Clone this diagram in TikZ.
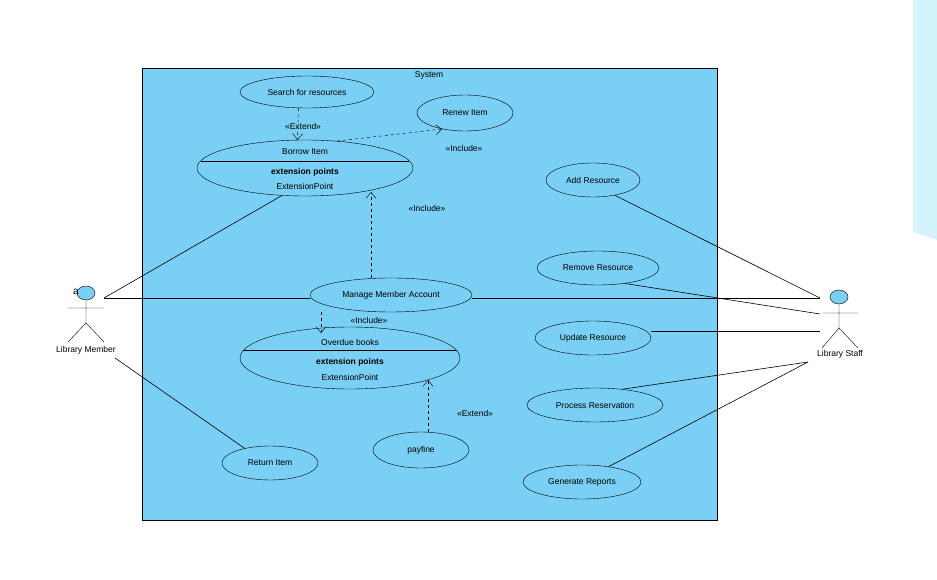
\documentclass[tikz,border=0pt]{standalone}
\usepackage{fontspec}
\setmainfont{Liberation Sans}
\usetikzlibrary{shapes.geometric,arrows.meta,calc}
\begin{document}
\begin{tikzpicture}[x=1pt,y=-1pt,
  uc/.style={draw,ellipse,fill=sysblue,inner sep=0pt,font=\fontsize{8.5}{10}\selectfont},
  lbl/.style={font=\fontsize{8.5}{10}\selectfont},
  dep/.style={dashed,-{Straight Barb[length=6pt,width=10pt]}},
  assoc/.style={draw,line width=0.6pt}]
\definecolor{sysblue}{HTML}{79CFF4}
\definecolor{stripe}{HTML}{D3F3FD}
\useasboundingbox (0,0) rectangle (937,580);
\fill[stripe] (913,0) -- (937,0) -- (937,240) -- (913,232) -- cycle;
\node[draw,fill=sysblue,line width=0.6pt,minimum width=575pt,minimum height=452pt,anchor=north west,inner sep=0pt] (sys) at (142,68) {};
\node[lbl] (systl) at (429,75) {System};
% use cases
\node[uc,minimum width=134pt,minimum height=32pt] (search) at (307,92) {Search for resources};
\node[uc,minimum width=96pt,minimum height=36pt] (renew) at (465,113) {Renew Item};
\node[uc,minimum width=216pt,minimum height=56pt] (borrow) at (305,168) {};
\draw ($(borrow)+(-104,-7)$) -- ($(borrow)+(104,-7)$);
\node[lbl] (bt) at (305,152) {Borrow Item};
\node[lbl,font=\fontsize{8.5}{10}\selectfont\bfseries] (bep) at (305,172) {extension points};
\node[lbl] (bex) at (305,186) {ExtensionPoint};
\node[uc,minimum width=94pt,minimum height=34pt] (add) at (593,180) {Add Resource};
\node[uc,minimum width=122pt,minimum height=34pt] (remove) at (598,268) {Remove Resource};
\node[uc,minimum width=162pt,minimum height=34pt] (manage) at (391,295) {Manage Member Account};
\node[uc,minimum width=116pt,minimum height=34pt] (update) at (593,338) {Update Resource};
\node[uc,minimum width=220pt,minimum height=62pt] (overdue) at (350,358) {};
\draw ($(overdue)+(-107,-8)$) -- ($(overdue)+(107,-8)$);
\node[lbl] (ot) at (350,342) {Overdue books};
\node[lbl,font=\fontsize{8.5}{10}\selectfont\bfseries] (oep) at (350,362) {extension points};
\node[lbl] (oex) at (350,377) {ExtensionPoint};
\node[uc,minimum width=136pt,minimum height=34pt] (process) at (595,405) {Process Reservation};
\node[uc,minimum width=96pt,minimum height=36pt] (payfine) at (421,450) {payfine};
\node[uc,minimum width=96pt,minimum height=34pt] (return) at (270,463) {Return Item};
\node[uc,minimum width=118pt,minimum height=34pt] (reports) at (582,482) {Generate Reports};
% actors
\node[draw,ellipse,fill=sysblue,minimum width=18pt,minimum height=14pt,inner sep=0pt] (mhead) at (86,293) {};
\node[lbl,font=\fontsize{10}{10}\selectfont] (ma) at (76,292) {a};
\draw (68,308) -- (104,308) (86,300) -- (86,323) -- (68,342) (86,323) -- (104,342);
\node[lbl] (member) at (86,350) {Library Member};
\node[draw,ellipse,fill=sysblue,minimum width=18pt,minimum height=14pt,inner sep=0pt] (shead) at (839,297) {};
\draw (823,313) -- (858,313) (839,304) -- (839,328) -- (822,348) (839,328) -- (858,348);
\node[lbl] (staff) at (840,354) {Library Staff};
% member associations
\coordinate (m1) at (104,298);
\coordinate (m2) at (115,358);
\draw[assoc] (m1) -- (borrow.-130);
\draw[assoc] (m1) -- (manage.west |- m1);
\draw[assoc] (m2) -- (return.150);
% staff associations
\coordinate (s1) at (820,298);
\coordinate (s2) at (820,314);
\coordinate (s3) at (820,331);
\coordinate (s4) at (808,362);
\draw[assoc] (add.-35) -- (s1);
\draw[assoc] (manage.east |- s1) -- (s1);
\draw[assoc] (remove.-30) -- (s2);
\draw[assoc] (update.east |- s3) -- (s3);
\draw[assoc] (process.30) -- (s4);
\draw[assoc] (reports.30) -- (s4);
% dependencies
\draw[dep] (search.-118) -- (borrow.105);
\node[lbl] (e1) at (303,126) {<<Extend>>};
\draw[dep] (borrow.40) -- (renew.-145);
\node[lbl] (i1) at (464,148) {<<Include>>};
\draw[dep] (manage.north -| 371,0) -- (371,192);
\node[lbl] (i2) at (427,208) {<<Include>>};
\draw[dep] (manage.south -| 321,0) -- (321,333);
\node[lbl] (i3) at (369,320) {<<Include>>};
\draw[dep] (payfine.north -| 428,0) -- (428,380);
\node[lbl] (e2) at (475,413) {<<Extend>>};
\end{tikzpicture}
\end{document}
